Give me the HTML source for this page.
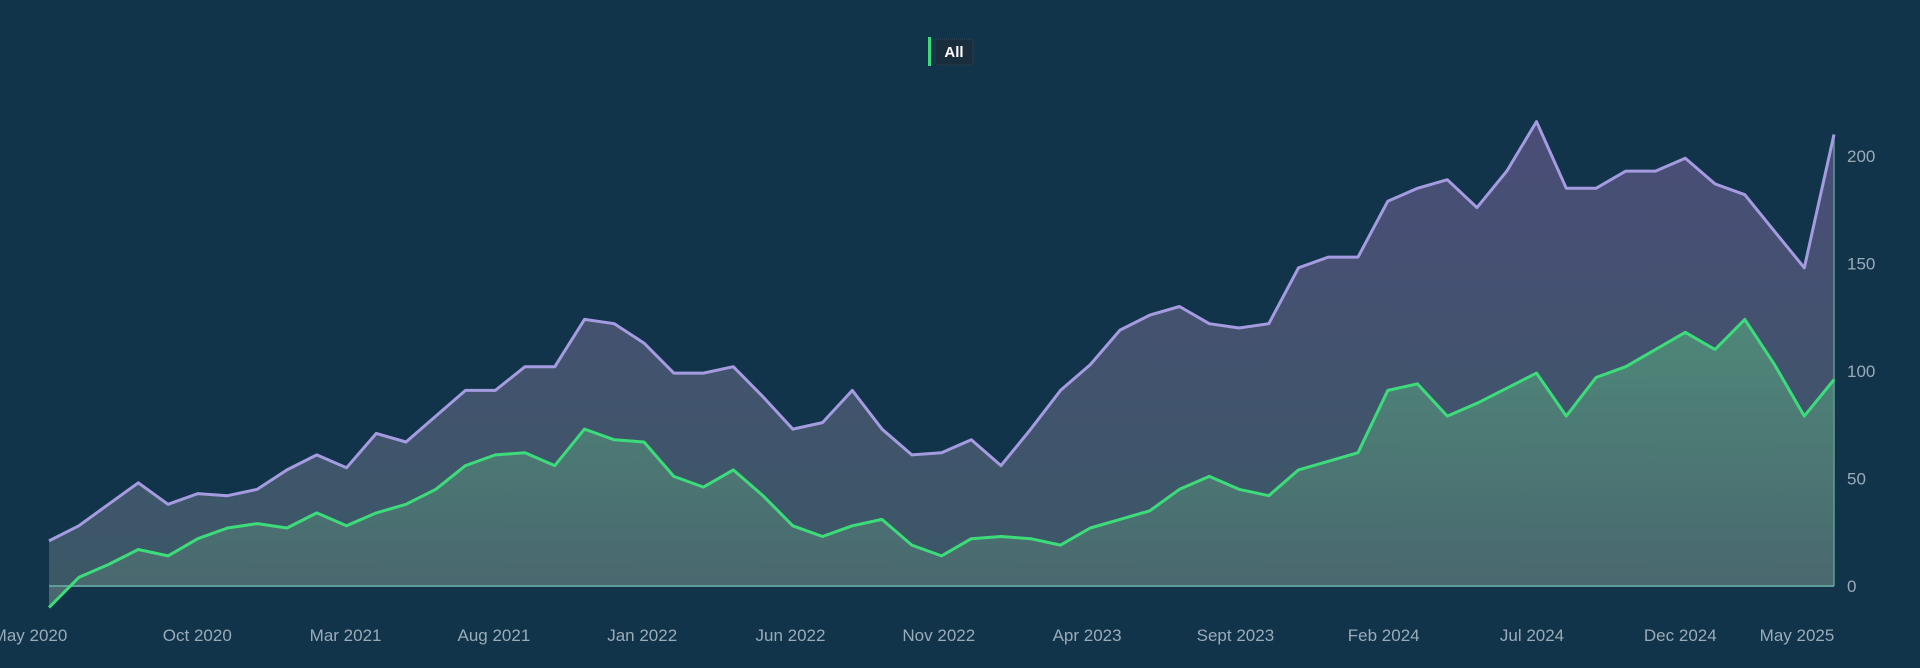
<!DOCTYPE html>
<html><head><meta charset="utf-8">
<style>
html,body{margin:0;padding:0;background:#11344a;width:1920px;height:668px;overflow:hidden}
svg{display:block;font-family:"Liberation Sans",sans-serif}
</style></head>
<body>
<svg id="chart" width="1920" height="668">
<defs>
<linearGradient id="gp" gradientUnits="userSpaceOnUse" x1="0" y1="110" x2="0" y2="590">
<stop offset="0" stop-color="#4b4d78"/><stop offset="1" stop-color="#3b5866"/></linearGradient>
<linearGradient id="gg" gradientUnits="userSpaceOnUse" x1="0" y1="300" x2="0" y2="610">
<stop offset="0" stop-color="#4f8a7a"/><stop offset="1" stop-color="#49656e"/></linearGradient>
</defs>
<g>
<rect x="928" y="37" width="3" height="29" fill="#3ddc7a"/>
<rect x="935" y="39" width="38" height="26" rx="3" fill="#1a2d3c" stroke="#34495a" stroke-dasharray="1 1"/>
<text x="954" y="57" text-anchor="middle" fill="#fff" font-size="15" font-weight="bold">All</text>
</g>
<g id="plot"></g>
<g id="axes"></g>
</svg>
<script>
const months=["May 2020","Oct 2020","Mar 2021","Aug 2021","Jan 2022","Jun 2022","Nov 2022","Apr 2023","Sept 2023","Feb 2024","Jul 2024","Dec 2024","May 2025"];
const yTicks=[0,50,100,150,200];
const purple=[21,28,38,48,38,43,42,45,54,61,55,71,67,79,91,91,102,102,124,122,113,99,99,102,88,73,76,91,73,61,62,68,56,73,91,103,119,126,130,122,120,122,148,153,153,179,185,189,176,193,216,185,185,193,193,199,187,182,165,148,210];
const green=[-10,4,10,17,14,22,27,29,27,34,28,34,38,45,56,61,62,56,73,68,67,51,46,54,42,28,23,28,31,19,14,22,23,22,19,27,31,35,45,51,45,42,54,58,62,91,94,79,85,92,99,79,97,102,110,118,110,124,103,79,96];
const X0=49,X1=1834,Y0=586,YS=107.5/50;
const n=purple.length;
const xs=i=>X0+(X1-X0)*i/(n-1);
const ys=v=>Y0-v*YS;
const NS="http://www.w3.org/2000/svg";
const plot=document.getElementById('plot'),axes=document.getElementById('axes');
function mk(t,a,p){const e=document.createElementNS(NS,t);for(const k in a)e.setAttribute(k,a[k]);p.appendChild(e);return e;}
function pts(arr){return arr.map((v,i)=>xs(i).toFixed(1)+","+ys(v).toFixed(1)).join(" L");}
const pa=mk('path',{d:"M"+X0+","+Y0+" L"+pts(purple)+" L"+X1+","+Y0+"Z",fill:"url(#gp)"},plot);


const ga=mk('path',{d:"M"+X0+","+Y0+" L"+pts(green)+" L"+X1+","+Y0+"Z",fill:"url(#gg)"},plot);


const zl=mk('line',{x1:X0,x2:X1,y1:Y0,y2:Y0,stroke:"#5f9c97","stroke-width":2},plot);


const rl=mk('line',{x1:X1,x2:X1,y1:ys(purple[n-1]),y2:Y0,stroke:"#5f9c97","stroke-width":1.5},plot);


const pl=mk('path',{d:"M"+pts(purple),fill:"none",stroke:"#a59be0","stroke-width":3,"stroke-linejoin":"round"},plot);


const gl=mk('path',{d:"M"+pts(green),fill:"none",stroke:"#3ddc7a","stroke-width":3,"stroke-linejoin":"round"},plot);


yTicks.forEach(v=>{const t=mk('text',{x:1847,y:ys(v)+6,fill:"#9aabb8","font-size":17},axes);t.textContent=v;

});
months.forEach((m,i)=>{let x=X0+148.3*i;if(i==0)x=30;if(i==months.length-1)x=1797;
const t=mk('text',{x:x,y:641,fill:"#9aabb8","font-size":17,"text-anchor":"middle"},axes);t.textContent=m;

});
</script>
</body></html>
